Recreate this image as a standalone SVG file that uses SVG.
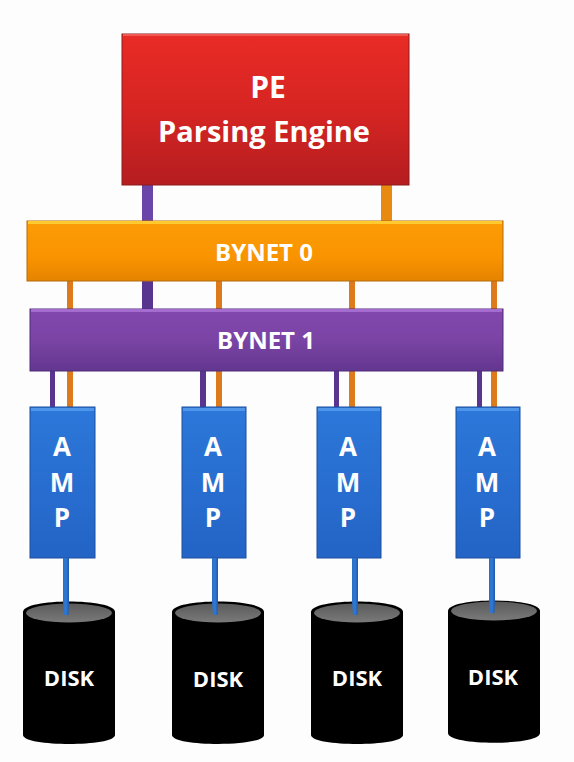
<svg xmlns="http://www.w3.org/2000/svg" width="574" height="762" viewBox="0 0 574 762">
<defs>
<linearGradient id="gr" x1="0" y1="0" x2="0" y2="1"><stop offset="0" stop-color="#e92b25"/><stop offset="0.5" stop-color="#d62523"/><stop offset="1" stop-color="#b51d20"/></linearGradient>
<linearGradient id="go" x1="0" y1="0" x2="0" y2="1"><stop offset="0" stop-color="#fb9c05"/><stop offset="0.6" stop-color="#f99400"/><stop offset="1" stop-color="#e58300"/></linearGradient>
<linearGradient id="gp" x1="0" y1="0" x2="0" y2="1"><stop offset="0" stop-color="#8347ae"/><stop offset="0.5" stop-color="#7a44a4"/><stop offset="1" stop-color="#633690"/></linearGradient>
<linearGradient id="gb" x1="0" y1="0" x2="0" y2="1"><stop offset="0" stop-color="#2c78da"/><stop offset="1" stop-color="#2364c6"/></linearGradient>
<linearGradient id="gl" x1="0" y1="0" x2="1" y2="0"><stop offset="0" stop-color="#2a6fc0"/><stop offset="0.5" stop-color="#2f7ad8"/><stop offset="1" stop-color="#1f58a8"/></linearGradient>
<linearGradient id="gd" x1="0" y1="0" x2="0" y2="1"><stop offset="0" stop-color="#5a5a5a"/><stop offset="1" stop-color="#7a7a7a"/></linearGradient>
</defs>
<style>
text{font-family:"Open Sans","Liberation Sans",sans-serif;font-weight:700;fill:#fff;text-anchor:middle}
.o{fill:#dd7a1c}.p{fill:#5a3590}.oh{fill:#e98a10}.ph{fill:#6b45a8}
.lbl{font-size:24px}.big{font-size:29px}.amp{font-size:26px}.disk{font-size:22px}
.amph{fill:#4f96ea}.ampb{fill:url(#gb);stroke:#1d4f9e}.wire{fill:url(#gl)}.body{fill:#000}.cap{fill:url(#gd)}
</style>
<rect width="574" height="762" fill="#fdfdfe"/>
<g id="connectors">
<rect class="ph" x="142" y="184" width="11" height="38"/>
<rect class="oh" x="381" y="184" width="11" height="38"/>
<rect class="o" x="67" y="280" width="6" height="30"/>
<rect class="p" x="142" y="280" width="11" height="30"/>
<rect class="o" x="216" y="280" width="6" height="30"/>
<rect class="o" x="349" y="280" width="6" height="30"/>
<rect class="o" x="491" y="280" width="6" height="30"/>
<rect class="p" x="50" y="370" width="5" height="38"/><rect class="o" x="67" y="370" width="6" height="38"/>
<rect class="p" x="200" y="370" width="6" height="38"/><rect class="o" x="216" y="370" width="6" height="38"/>
<rect class="p" x="334" y="370" width="5" height="38"/><rect class="o" x="349" y="370" width="6" height="38"/>
<rect class="p" x="477" y="370" width="5" height="38"/><rect class="o" x="491" y="370" width="6" height="38"/>
</g>
<g id="pe">
<rect x="122" y="34" width="287" height="151" fill="url(#gr)" stroke="#8e1a1c"/>
<rect x="123" y="34" width="285" height="2" fill="#ee5a52"/>
<text x="268" y="98" style="font-size:30px">PE</text>
<text class="big" x="264" y="142">Parsing Engine</text>
</g>
<g id="bynet0">
<rect x="27" y="221" width="476" height="60" fill="url(#go)" stroke="#b56a0a"/>
<rect x="28" y="221" width="474" height="3" fill="#ffc930"/>
<text class="lbl" x="264" y="261">BYNET 0</text>
</g>
<g id="bynet1">
<rect x="30" y="309" width="473" height="62" fill="url(#gp)" stroke="#4f2c78"/>
<rect x="31" y="309" width="471" height="3" fill="#a56cd0"/>
<text class="lbl" x="266" y="349">BYNET 1</text>
</g>
<g id="amp1">
<rect class="ampb" x="30" y="407" width="65" height="151"/>
<rect class="amph" x="31" y="408" width="63" height="3"/>
<text class="amp" x="62" y="456">A</text><text class="amp" x="62" y="492">M</text><text class="amp" x="62" y="527">P</text>
</g>
<g id="amp2">
<rect class="ampb" x="182" y="407" width="64" height="151"/>
<rect class="amph" x="183" y="408" width="62" height="3"/>
<text class="amp" x="213" y="456">A</text><text class="amp" x="213" y="492">M</text><text class="amp" x="213" y="527">P</text>
</g>
<g id="amp3">
<rect class="ampb" x="317" y="407" width="64" height="151"/>
<rect class="amph" x="318" y="408" width="62" height="3"/>
<text class="amp" x="348" y="456">A</text><text class="amp" x="348" y="492">M</text><text class="amp" x="348" y="527">P</text>
</g>
<g id="amp4">
<rect class="ampb" x="456" y="407" width="64" height="151"/>
<rect class="amph" x="457" y="408" width="62" height="3"/>
<text class="amp" x="487" y="456">A</text><text class="amp" x="487" y="492">M</text><text class="amp" x="487" y="527">P</text>
</g>
<g id="disk1">
<path class="body" d="M23 612C23 598 115 598 115 612V735C115 747 23 747 23 735Z"/>
<ellipse class="cap" cx="69" cy="613" rx="43" ry="9.5"/>
<path class="wire" d="M63 558h6v44l-0.5 13h-4.5l-1-13z"/>
<text class="disk" x="69" y="686">DISK</text>
</g>
<g id="disk2">
<path class="body" d="M172 612C172 598 264 598 264 612V735C264 747 172 747 172 735Z"/>
<ellipse class="cap" cx="218" cy="613" rx="43" ry="9.5"/>
<path class="wire" d="M212 558h6v44l-0.5 13h-4.5l-1-13z"/>
<text class="disk" x="218" y="687">DISK</text>
</g>
<g id="disk3">
<path class="body" d="M311 612C311 598 403 598 403 612V735C403 747 311 747 311 735Z"/>
<ellipse class="cap" cx="357" cy="613" rx="43" ry="9.5"/>
<path class="wire" d="M352 558h6v44l-0.5 13h-4.5l-1-13z"/>
<text class="disk" x="357" y="686">DISK</text>
</g>
<g id="disk4">
<path class="body" d="M448 611C448 597 540 597 540 611V733C540 746 448 746 448 733Z"/>
<ellipse class="cap" cx="494" cy="611" rx="43" ry="9.5"/>
<path class="wire" d="M489 558h6v42l-0.5 13h-4.5l-1-13z"/>
<text class="disk" x="493" y="685">DISK</text>
</g>
</svg>
